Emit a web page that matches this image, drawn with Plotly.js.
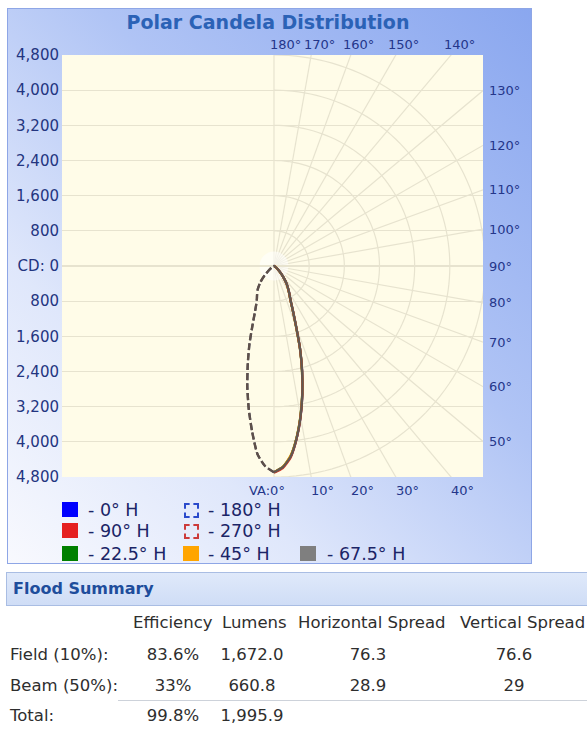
<!DOCTYPE html>
<html><head><meta charset="utf-8">
<script src="https://cdn.plot.ly/plotly-3.0.1.min.js"></script>
<style>
html,body{margin:0;padding:0;background:#fff;width:587px;height:729px;overflow:hidden;font-family:"DejaVu Sans",sans-serif;}
#panel{position:absolute;left:7px;top:8px;width:523px;height:554px;border:1px solid #8ea6e6;
 background:linear-gradient(45deg,#f8f9fe 0%,#dfe7fb 28%,#b0c4f5 60%,#8aa7ef 100%);}
#chart{position:absolute;left:7px;top:8px;width:524px;height:555px;}
.lg{position:absolute;font-size:17.5px;color:#1b2567;line-height:20px;white-space:nowrap;}
.sq{position:absolute;width:16px;height:15px;}
.dsq{position:absolute;width:11px;height:11px;border:2px dashed;}
#bar{position:absolute;left:6px;top:572px;width:585px;height:32px;border:1px solid #a9bde3;
 background:linear-gradient(#dfe9fa,#cfddf6);}
#bar span{position:absolute;left:6px;top:6px;font-weight:bold;font-size:16px;color:#1e4d9c;}
.tc{position:absolute;font-size:16.5px;color:#2e2e2e;line-height:20px;white-space:nowrap;}
#sep{position:absolute;left:118px;top:700px;width:469px;height:1px;background:#cdd2da;}
</style></head>
<body>
<div id="panel"></div>
<div id="chart"></div>
<div id="legend"></div>
<div id="bar"><span>Flood Summary</span></div>
<div id="table"></div>
<div id="sep"></div>
<script>
// ---- data ----
const VA = [0,2.5,5,7.5,10,12.5,15,17.5,20,22.5,25,27.5,30,35,40,45,50,55,60,70,80,90];
const cd_0H    = [4690,4580,4350,3950,3480,2980,2470,1970,1480,1150,920,780,680,510,330,190,100,50,25,8,2,0];
const cd_90H   = [4705,4600,4370,3960,3485,2980,2470,1970,1480,1150,920,780,680,510,330,190,100,50,25,8,2,0];
const cd_22_5H = [4690,4580,4340,3940,3470,2970,2460,1960,1470,1140,915,775,675,505,325,185,98,48,24,8,2,0];
const cd_45H   = [4690,4575,4330,3940,3470,2970,2460,1960,1470,1140,910,770,670,500,320,180,95,47,23,7,2,0];
const cd_67_5H = [4690,4580,4350,3950,3480,2980,2470,1970,1480,1150,920,780,680,510,330,190,100,50,25,8,2,0];
const cd_180H  = [4690,4560,4300,3800,3300,2800,2300,1850,1420,1130,950,840,770,640,480,300,150,70,30,10,2,0];
const cd_270H  = [4690,4560,4300,3810,3310,2810,2310,1860,1430,1140,955,845,775,645,485,305,152,72,31,10,2,0];

const cdTickVals = [4800,4000,3200,2400,1600,800,0,-800,-1600,-2400,-3200,-4000,-4800];
const cdTickText = ['4,800','4,000','3,200','2,400','1,600','800','CD: 0','800','1,600','2,400','3,200','4,000','4,800'];
const gridRadii = [800,1600,2400,3200,4000,4800];
const topAngles = [180,170,160,150,140];
const rightAngles = [130,120,110,100,90,80,70,60,50];
const bottomAngles = [0,10,20,30,40];

const hdrCols = ['Efficiency','Lumens','Horizontal Spread','Vertical Spread'];
const rowLabels = ['Field (10%):','Beam (50%):','Total:'];
const efficiency = ['83.6%','33%','99.8%'];
const lumens = ['1,672.0','660.8','1,995.9'];
const hSpread = ['76.3','28.9',''];
const vSpread = ['76.6','29',''];

// ---- series (side: +1 right, -1 left mirrored) ----
const series = [
 {name:'0° H', data:cd_0H, side:1, color:'#0000ff', dash:'solid', legend:[0,0]},
 {name:'22.5° H', data:cd_22_5H, side:1, color:'#008000', dash:'solid', legend:[2,0]},
 {name:'45° H', data:cd_45H, side:1, color:'#ffa500', dash:'solid', legend:[2,1]},
 {name:'90° H', data:cd_90H, side:1, color:'#d83a2a', dash:'solid', legend:[1,0], lcolor:'#e52020'},
 {name:'67.5° H', data:cd_67_5H, side:1, color:'#625850', dash:'solid', legend:[2,2], lcolor:'#7f7f7f'},
 {name:'180° H', data:cd_180H, side:-1, color:'#4b4c60', dash:'7px,3px', legend:[0,1], lcolor:'#2a4acb'},
 {name:'270° H', data:cd_270H, side:-1, color:'#5e504a', dash:'7px,3px', legend:[1,1], lcolor:'#cc3b3b'}
];
const rad = d => d*Math.PI/180;
const traces = series.map(s => ({
  type:'scatter', mode:'lines', name:s.name, hoverinfo:'skip',
  x: s.data.map((r,i)=> s.side*r*Math.sin(rad(VA[i]))),
  y: s.data.map((r,i)=> -r*Math.cos(rad(VA[i]))),
  line:{color:s.color, width:2.3, dash:s.dash, shape:'spline', smoothing:0.6}
}));

// ---- polar grid ----
const gcol = '#e7e3cf';
const shapes = [];
gridRadii.forEach(r=>{
  let p='';
  for(let a=0;a<=180;a+=2){ const x=r*Math.sin(rad(a)), y=-r*Math.cos(rad(a)); p+=(a===0?'M':'L')+x.toFixed(1)+','+y.toFixed(1)+' '; }
  shapes.push({type:'path', xref:'x', yref:'y', path:p, line:{color:gcol,width:1.2}, layer:'below'});
});
for(let a=0;a<=180;a+=10){
  shapes.push({type:'line', xref:'x', yref:'y', x0:0, y0:0, x1:9000*Math.sin(rad(a)), y1:-9000*Math.cos(rad(a)), line:{color:gcol,width:1.2}, layer:'below'});
}
// soft glow at the origin
shapes.push({type:'circle', xref:'x', yref:'y', x0:-330, y0:-330, x1:330, y1:330, fillcolor:'rgba(255,255,255,0.55)', line:{width:0}, layer:'below'});

const xR=[-4823,4755], yR=[-4800,4800];
const lf = {family:'DejaVu Sans', size:13, color:'#24368a'};
const ann = [];
topAngles.forEach(a=>{
  const phi = 180-a;
  ann.push({xref:'x',yref:'y',x:yR[1]*Math.tan(rad(phi)),y:yR[1],text:a+'°',showarrow:false,xanchor:'center',yanchor:'middle',xshift:(a===180?12:8),yshift:11,font:lf});
});
rightAngles.forEach(a=>{
  const y = -xR[1]*Math.cos(rad(a))/Math.sin(rad(a));
  ann.push({xref:'x',yref:'y',x:xR[1],y:y,text:a+'°',showarrow:false,xanchor:'left',yanchor:'middle',xshift:4,font:lf});
});
bottomAngles.forEach(a=>{
  const x = -yR[0]*Math.tan(rad(a));
  if(a===0) ann.push({xref:'x',yref:'y',x:0,y:yR[0],text:'VA:0°',showarrow:false,xanchor:'right',yanchor:'middle',xshift:13,yshift:-13,font:lf});
  else ann.push({xref:'x',yref:'y',x:x,y:yR[0],text:a+'°',showarrow:false,xanchor:'left',yanchor:'middle',xshift:-2,yshift:-13,font:lf});
});

const layout = {
  width:524, height:555, margin:{l:55,r:48,t:47,b:86},
  paper_bgcolor:'rgba(0,0,0,0)', plot_bgcolor:'#fffce8',
  showlegend:false,
  title:{text:'Polar Candela Distribution', font:{family:'DejaVu Sans', size:19, color:'#2b62b6', weight:'bold'}, x:261/524, xanchor:'center', xref:'container', y:1-14/555, yanchor:'middle', yref:'container'},
  xaxis:{range:xR, showgrid:false, zeroline:false, showticklabels:false, ticks:'', fixedrange:true},
  yaxis:{range:yR, tickvals:cdTickVals, ticktext:cdTickText, showgrid:true, gridcolor:gcol, gridwidth:1.2, zeroline:false, ticks:'', ticklabelstandoff:2, tickfont:{family:'DejaVu Sans', size:15, color:'#233580'}, fixedrange:true},
  shapes:shapes, annotations:ann
};
Plotly.newPlot('chart', traces, layout, {staticPlot:true, displayModeBar:false});

// ---- legend ----
const lgRows=[510,531,554], lgCols=[[62,88],[183,208],[300,327]];
let lh='';
series.forEach(s=>{
  const [r,c]=s.legend; const cy=lgRows[r]; const [sx,tx]=lgCols[c];
  const col = s.lcolor||s.color;
  if(s.dash==='solid') lh+=`<div class="sq" style="left:${sx}px;top:${cy-8}px;background:${col}"></div>`;
  else lh+=`<div class="dsq" style="left:${sx+1}px;top:${cy-7}px;border-color:${col}"></div>`;
  lh+=`<div class="lg" style="left:${tx}px;top:${cy-10}px">- ${s.name}</div>`;
});
document.getElementById('legend').innerHTML=lh;

// ---- table ----
const hdrLeft=[133,222,298,460], colCenter=[173,252,368,514], rowY=[655,686,716];
let th='';
hdrCols.forEach((h,i)=> th+=`<div class="tc" style="left:${hdrLeft[i]}px;top:${623-10}px">${h}</div>`);
rowLabels.forEach((l,i)=>{
  const y=rowY[i]-10;
  th+=`<div class="tc" style="left:10px;top:${y}px">${l}</div>`;
  [efficiency[i],lumens[i],hSpread[i],vSpread[i]].forEach((v,j)=>{
    if(v!=='') th+=`<div class="tc" style="left:${colCenter[j]}px;top:${y}px;transform:translateX(-50%)">${v}</div>`;
  });
});
document.getElementById('table').innerHTML=th;
</script>
</body></html>
